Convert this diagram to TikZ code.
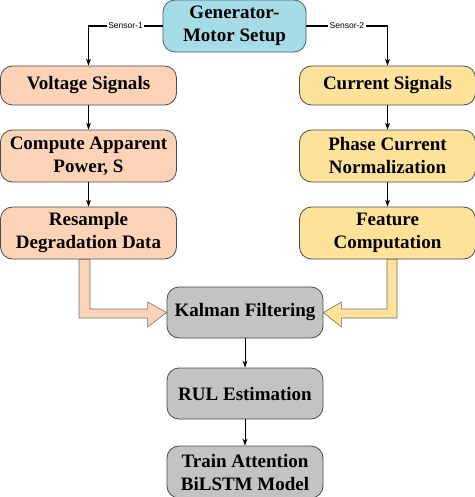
\documentclass[tikz,border=0pt]{standalone}
\usepackage{fontspec}
\setmainfont{Liberation Serif}
\setsansfont{Liberation Sans}
\usetikzlibrary{calc,arrows.meta}
\definecolor{cblue}{HTML}{A6DCE8}
\definecolor{corange}{HTML}{FCD3B6}
\definecolor{cyellow}{HTML}{FEE29A}
\definecolor{cgray}{HTML}{C3C3C3}
\definecolor{cborder}{HTML}{4A4A4A}
\definecolor{cteal}{HTML}{3E6470}
\begin{document}
\begin{tikzpicture}[x=1pt,y=-1pt,
  box/.style={rounded corners=12pt, draw=cborder, line width=0.8pt, align=center,
    inner sep=0pt, font=\bfseries\fontsize{19}{23}\selectfont},
  sidebox/.style={box, minimum width=176pt},
  midbox/.style={box, minimum width=156pt, minimum height=51pt, fill=cgray},
  thin/.style={-{Stealth[length=7pt,width=5pt]}, line width=0.9pt},
  sensline/.style={thin, line width=1.1pt},
  fat/.style={draw=cborder!80, line width=0.6pt, line join=miter},
  senslbl/.style={fill=white, inner sep=1.5pt, font=\sffamily\fontsize{8.5}{9}\selectfont}]
\useasboundingbox (0,0) rectangle (474,497);

\node[box, fill=cblue, draw=cteal, minimum width=143pt, minimum height=52pt] (gen) at (234.5,26) {Generator-\\Motor Setup};

\node[sidebox, fill=corange, minimum height=39pt] (volt) at (88.5,85.5) {Voltage Signals};
\node[sidebox, fill=corange, minimum height=52pt] (comp) at (88.5,156) {Compute Apparent\\Power, S};
\node[sidebox, fill=corange, minimum height=52pt] (resamp) at (88.5,233) {Resample\\Degradation Data};

\node[sidebox, fill=cyellow, minimum height=39pt] (curr) at (387.5,85.5) {Current Signals};
\node[sidebox, fill=cyellow, minimum height=52pt] (phase) at (387.5,156) {Phase Current\\Normalization};
\node[sidebox, fill=cyellow, minimum height=52pt] (feat) at (387.5,233) {Feature\\Computation};

\node[midbox] (kalman) at (245,312.5) {Kalman Filtering};
\node[midbox] (rul) at (245,393.5) {RUL Estimation};
\node[midbox, minimum height=52pt] (train) at (245,472) {Train Attention\\BiLSTM Model};

\draw[sensline] (gen.west) -| node[senslbl, pos=0.25] (s1) {Sensor-1} (volt.north);
\draw[sensline] (gen.east) -| node[senslbl, pos=0.25] (s2) {Sensor-2} (curr.north);
\draw[thin] (volt) -- (comp);
\draw[thin] (comp) -- (resamp);
\draw[thin] (curr) -- (phase);
\draw[thin] (phase) -- (feat);
\draw[thin] (kalman) -- (rul);
\draw[thin] (rul) -- (train);

% fat arrows
\draw[fat, fill=corange]
  ($(resamp.south)+(-9.5,0)$) coordinate (la)
  -- (la |- {$(kalman.west)+(-19,5.5)$})
  -- ($(kalman.west)+(-19,5.5)$)
  -- ($(kalman.west)+(-19,14.5)$)
  -- (kalman.west)
  -- ($(kalman.west)+(-19,-10.5)$)
  -- ($(kalman.west)+(-19,-3.5)$)
  -- ({$(resamp.south)+(1.5,0)$} |- {$(kalman.west)+(-19,-3.5)$})
  -- ($(resamp.south)+(1.5,0)$) -- cycle;
\draw[fat, fill=cyellow]
  ($(feat.south)+(9.5,0)$) coordinate (ra)
  -- (ra |- {$(kalman.east)+(18,5.5)$})
  -- ($(kalman.east)+(18,5.5)$)
  -- ($(kalman.east)+(18,14.5)$)
  -- (kalman.east)
  -- ($(kalman.east)+(18,-10.5)$)
  -- ($(kalman.east)+(18,-3.5)$)
  -- ({$(feat.south)+(-0.5,0)$} |- {$(kalman.east)+(18,-3.5)$})
  -- ($(feat.south)+(-0.5,0)$) -- cycle;
\end{tikzpicture}
\end{document}
